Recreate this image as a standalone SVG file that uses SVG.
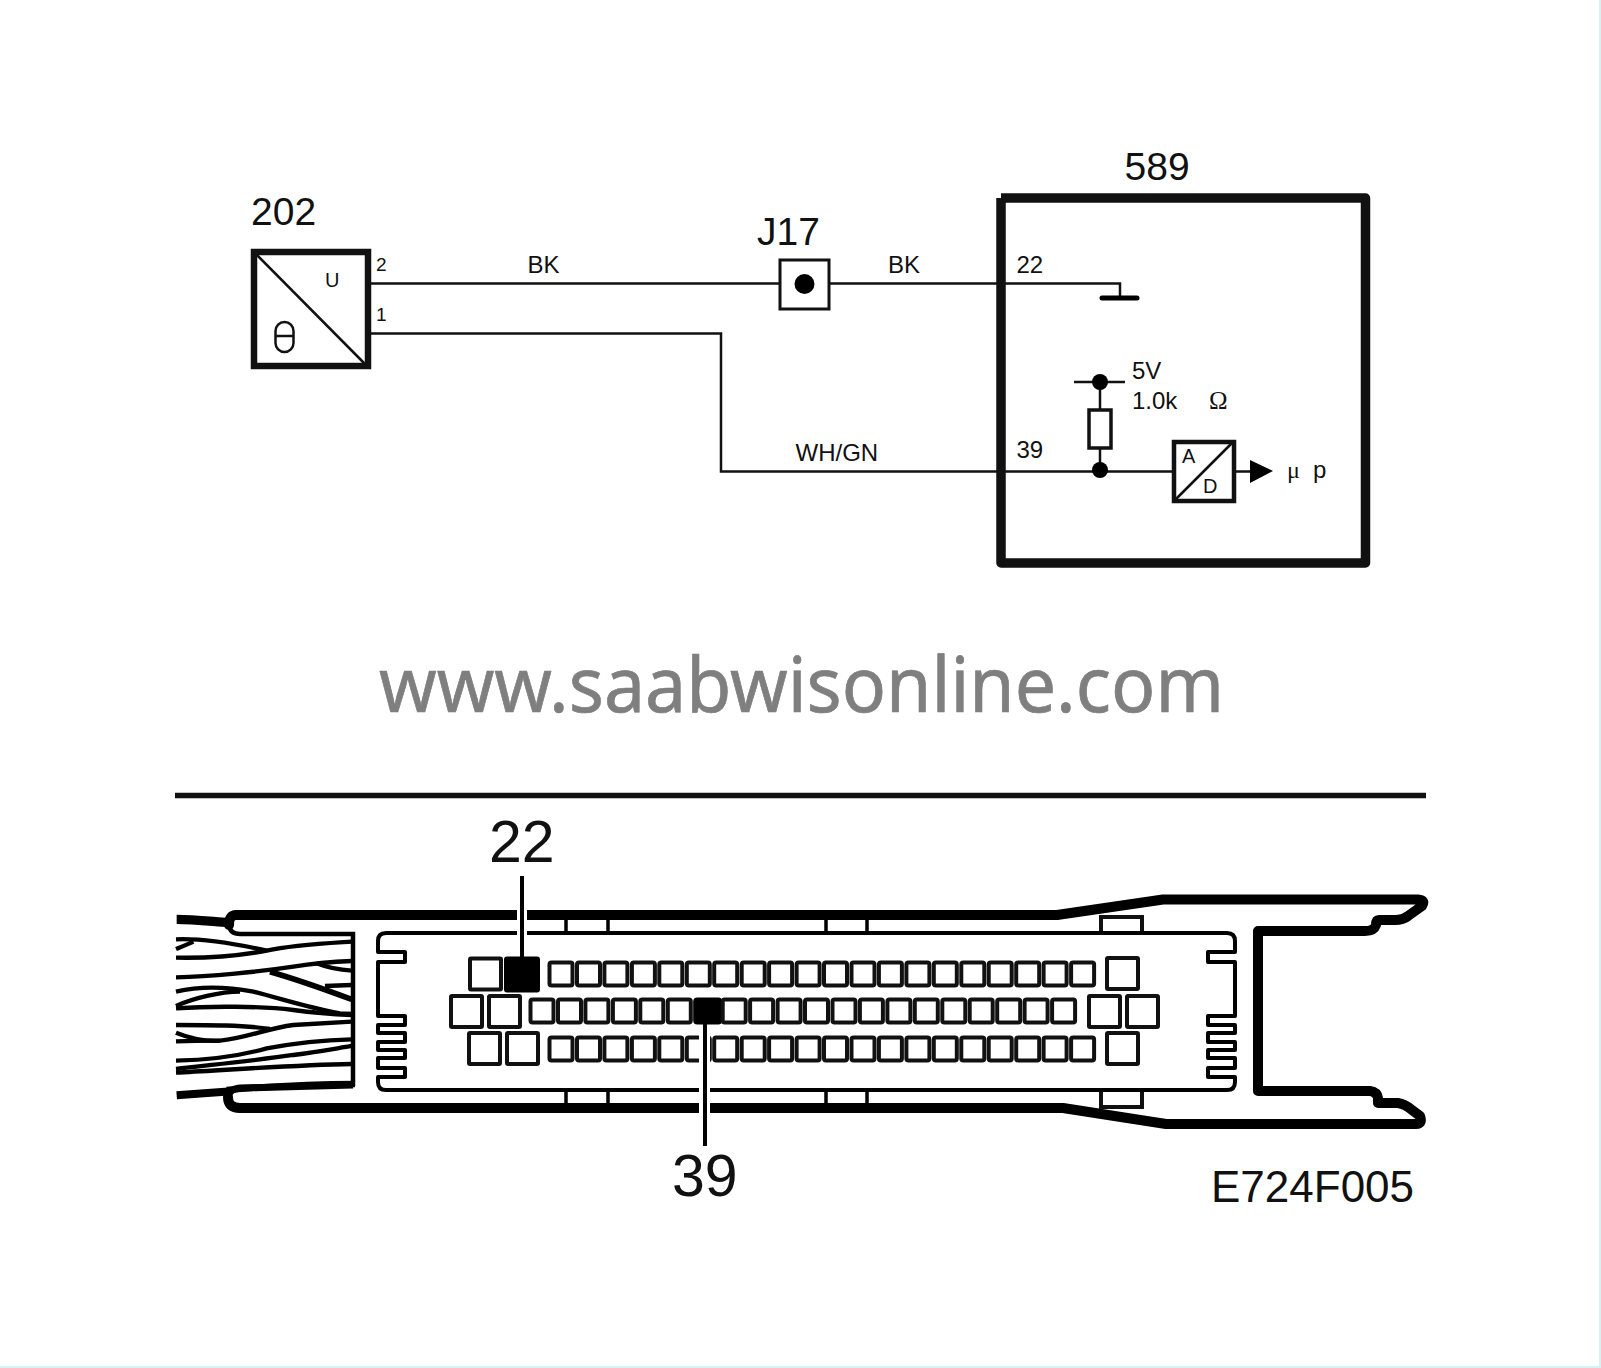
<svg xmlns="http://www.w3.org/2000/svg" width="1601" height="1368" viewBox="0 0 1601 1368">
<style>
text{font-family:"Liberation Sans",Arial,sans-serif;fill:#111}
.w{fill:none;stroke:#111;stroke-width:2.5}
.b{fill:#fff;stroke:#111}
.p{fill:#fff;stroke:#111;stroke-width:4}
.big{fill:#fff;stroke:#111;stroke-width:4}
.k{fill:#000;stroke:#000;stroke-width:4}
.o{fill:none;stroke:#000;stroke-linejoin:round;stroke-linecap:round}
.t38{font-size:39px}
.t23{font-size:24px}
.t19{font-size:19px}
.t60{font-size:59px}
.wire{fill:none;stroke:#000;stroke-width:13;stroke-linecap:butt}
</style>
<defs>
<rect id="pin" class="p" width="23" height="23" rx="2"/>
<rect id="bigpin" class="big" width="31" height="31" rx="1"/>
</defs>
<rect width="1601" height="1368" fill="#fff"/>
<path d="M1600,0V1367H0" fill="none" stroke="#d6f2f2" stroke-width="2"/>

<g id="connectors">
<path class="w" d="M371,283.500H779M829,283.500H1120V298"/>
<path class="w" d="M371,333.500H721V471.500H1172"/>
<path class="w" d="M1236,471.500H1252"/>
</g>

<g id="node-202">
<rect class="b" x="254" y="252" width="114" height="114" stroke-width="6.500"/>
<path class="w" d="M256,254L365,364"/>
<rect x="275.500" y="322" width="18" height="30" rx="9" fill="none" stroke="#111" stroke-width="2.500"/>
<path d="M275,336H294" stroke="#111" stroke-width="2.500"/>
<text class="t38" x="251" y="225">202</text>
<text class="t19" x="376" y="271">2</text>
<text class="t19" x="376" y="321">1</text>
<text x="325" y="287" style="font-size:20px">U</text>
</g>

<g id="node-J17">
<rect class="b" x="780" y="260" width="49" height="49" stroke-width="3"/>
<circle cx="804.500" cy="284" r="10" fill="#000"/>
<text class="t38" x="757" y="245">J17</text>
</g>
<text class="t23" x="527.500" y="273">BK</text>
<text class="t23" x="888" y="273">BK</text>
<text x="795.500" y="461" style="font-size:24px">WH/GN</text>

<g id="node-589">
<path d="M1001,198H1365.500V563H1001V198" fill="none" stroke="#111" stroke-width="9.500" stroke-linejoin="round"/>
<text class="t38" x="1124.500" y="180">589</text>
<text class="t23" x="1016.500" y="273">22</text>
<text class="t23" x="1016.500" y="458">39</text>
<path d="M1102,298H1137" stroke="#000" stroke-width="5" stroke-linecap="round"/>
<path class="w" d="M1074,382H1125M1100,382V470"/>
<circle cx="1100" cy="382" r="8" fill="#000"/>
<circle cx="1100" cy="470" r="8" fill="#000"/>
<rect class="b" x="1089" y="410" width="22" height="38" stroke-width="3.500"/>
<text class="t23" x="1132" y="379">5V</text>
<text class="t23" x="1132" y="409">1.0k</text>
<text x="1209" y="409" style="font-size:25px;font-family:'Liberation Serif',serif">Ω</text>
<rect class="b" x="1174" y="442" width="60" height="59" stroke-width="4.500"/>
<path class="w" d="M1176,499L1232,443"/>
<text x="1182" y="463" style="font-size:20px">A</text>
<text x="1203" y="493" style="font-size:20px">D</text>
<path d="M1250,460L1273,471L1250,483Z" fill="#000"/>
<text x="1287" y="478" style="font-size:24px;font-family:'Liberation Serif',serif">μ</text>
<text x="1313" y="478" style="font-size:24px">p</text>
</g>

<text id="watermark" x="379" y="712" textLength="845" lengthAdjust="spacingAndGlyphs" style="font-size:77px;font-family:'Noto Sans',sans-serif;fill:#7f7f7f;stroke:#7f7f7f;stroke-width:.7">www.saabwisonline.com</text>

<path d="M175,795.500H1426" stroke="#111" stroke-width="5.500"/>

<g id="connector-drawing">
<path class="o" stroke-width="10" d="M1057,915H236Q229,915 229,925"/>
<path class="o" stroke-width="10" d="M1057,915L1163,899.500H1418Q1426,900 1422,906L1408,916Q1403,920 1395,920H1379Q1376,920 1376,925Q1374,931 1365,931H1258V1091H1370Q1377,1092 1378,1098V1103H1398Q1405,1104 1412,1110L1420,1116Q1423,1124 1416,1124H1166L1063,1108H240Q228,1108 228,1097"/>
<path d="M229,925Q230,934 240,934H353V1086" fill="none" stroke="#000" stroke-width="4.500"/>
<path d="M228,1097Q229,1089 240,1088L353,1085" fill="none" stroke="#000" stroke-width="7"/>
<g id="wires" transform="translate(160 880) scale(.3333)">
<path class="wire" d="M48,178C120,175 220,190 320,212"/>
<path class="wire" d="M48,207C70,198 90,190 100,185"/>
<path class="wire" d="M48,233C150,235 250,225 320,212C400,195 500,190 575,185"/>
<path class="wire" d="M48,292C150,290 300,275 400,260C460,250 520,245 575,243"/>
<path class="wire" style="stroke-width:17" d="M330,275C400,295 500,330 575,358"/>
<path class="wire" d="M470,250C500,262 540,270 575,272"/>
<path class="wire" d="M495,318L575,315"/>
<path class="wire" d="M48,335C120,318 200,320 280,335C360,355 450,385 540,400L575,402"/>
<path class="wire" d="M48,378C100,355 180,335 240,335"/>
<path class="wire" d="M48,385C150,378 300,378 400,390C450,397 500,402 575,405"/>
<path class="wire" d="M48,435C150,435 250,435 330,447"/>
<path class="wire" d="M48,458C90,475 130,485 180,482C260,475 320,445 400,435L575,425"/>
<path class="wire" d="M48,484C100,482 130,482 180,482"/>
<path class="wire" d="M48,542C150,540 250,525 320,505C400,490 500,480 575,478"/>
<path class="wire" d="M48,567C150,555 300,540 400,525C480,515 530,505 575,498"/>
<path class="wire" d="M48,578C200,570 400,555 575,552"/>
<path class="wire" style="stroke-width:20" d="M200,630C320,620 450,612 585,612"/>
<path class="wire" style="stroke-width:24" d="M50,646L215,634"/>
<path class="wire" style="stroke-width:28" d="M50,118C100,118 160,125 205,128"/>
</g>
<path fill="none" stroke="#000" stroke-width="3.500" d="M566,920V933M608,920V933M826,920V933M867,920V933M566,1090V1104M608,1090V1104M826,1090V1104M867,1090V1104"/>
<path class="big" d="M1101,933V917H1142V933M1101,1090V1107H1142V1090"/>
<path id="shell" fill="#fff" stroke="#000" stroke-width="4" stroke-linejoin="round" d="M386,933H1227Q1235,933 1235,941V952H1208V962H1235V1016H1208V1025H1235V1033H1208V1042H1235V1050H1208V1058H1235V1068H1208V1077H1235V1082Q1235,1090 1227,1090H386Q378,1090 378,1082V1077H405V1068H378V1058H405V1050H378V1042H405V1033H378V1025H405V1016H378V962H405V952H378V941Q378,933 386,933Z"/>

<g id="pins-row1">
<use href="#pin" x="549.500" y="962.500"/><use href="#pin" x="577" y="962.500"/><use href="#pin" x="604.400" y="962.500"/><use href="#pin" x="631.900" y="962.500"/><use href="#pin" x="659.300" y="962.500"/><use href="#pin" x="686.800" y="962.500"/><use href="#pin" x="714.200" y="962.500"/><use href="#pin" x="741.700" y="962.500"/><use href="#pin" x="769.100" y="962.500"/><use href="#pin" x="796.600" y="962.500"/><use href="#pin" x="824" y="962.500"/><use href="#pin" x="851.500" y="962.500"/><use href="#pin" x="878.900" y="962.500"/><use href="#pin" x="906.400" y="962.500"/><use href="#pin" x="933.800" y="962.500"/><use href="#pin" x="961.300" y="962.500"/><use href="#pin" x="988.700" y="962.500"/><use href="#pin" x="1016.200" y="962.500"/><use href="#pin" x="1043.600" y="962.500"/><use href="#pin" x="1071.100" y="962.500"/>
</g>
<g id="pins-row2">
<use href="#pin" x="530.500" y="999.500"/><use href="#pin" x="558" y="999.500"/><use href="#pin" x="585.400" y="999.500"/><use href="#pin" x="612.900" y="999.500"/><use href="#pin" x="640.300" y="999.500"/><use href="#pin" x="667.800" y="999.500"/><rect class="k" x="695.200" y="999.500" width="25" height="23" rx="2"/><use href="#pin" x="722.700" y="999.500"/><use href="#pin" x="750.100" y="999.500"/><use href="#pin" x="777.600" y="999.500"/><use href="#pin" x="805" y="999.500"/><use href="#pin" x="832.500" y="999.500"/><use href="#pin" x="859.900" y="999.500"/><use href="#pin" x="887.400" y="999.500"/><use href="#pin" x="914.800" y="999.500"/><use href="#pin" x="942.300" y="999.500"/><use href="#pin" x="969.700" y="999.500"/><use href="#pin" x="997.200" y="999.500"/><use href="#pin" x="1024.600" y="999.500"/><use href="#pin" x="1052.100" y="999.500"/>
</g>
<g id="pins-row3">
<use href="#pin" x="549.500" y="1037.500"/><use href="#pin" x="577" y="1037.500"/><use href="#pin" x="604.400" y="1037.500"/><use href="#pin" x="631.900" y="1037.500"/><use href="#pin" x="659.300" y="1037.500"/><use href="#pin" x="686.800" y="1037.500"/><use href="#pin" x="714.200" y="1037.500"/><use href="#pin" x="741.700" y="1037.500"/><use href="#pin" x="769.100" y="1037.500"/><use href="#pin" x="796.600" y="1037.500"/><use href="#pin" x="824" y="1037.500"/><use href="#pin" x="851.500" y="1037.500"/><use href="#pin" x="878.900" y="1037.500"/><use href="#pin" x="906.400" y="1037.500"/><use href="#pin" x="933.800" y="1037.500"/><use href="#pin" x="961.300" y="1037.500"/><use href="#pin" x="988.700" y="1037.500"/><use href="#pin" x="1016.200" y="1037.500"/><use href="#pin" x="1043.600" y="1037.500"/><use href="#pin" x="1071.100" y="1037.500"/>
</g>
<g id="pins-big">
<use href="#bigpin" x="470" y="958.500"/><rect class="k" x="506" y="958.500" width="32" height="32" rx="1"/>
<use href="#bigpin" x="451" y="996"/><use href="#bigpin" x="489" y="996"/>
<use href="#bigpin" x="469" y="1033"/><use href="#bigpin" x="507" y="1033"/>
<use href="#bigpin" x="1107" y="958"/>
<use href="#bigpin" x="1089" y="996"/><use href="#bigpin" x="1127" y="996"/>
<use href="#bigpin" x="1107" y="1033"/>
</g>
<rect x="517" y="905" width="10" height="34" fill="#fff"/>
<rect x="699" y="1030" width="11" height="90" fill="#fff"/>
<path d="M522,876V958M705,1022V1146" stroke="#000" stroke-width="4"/>
</g>

<text class="t60" x="489" y="862">22</text>
<text class="t60" x="672" y="1196">39</text>
<text x="1211" y="1202" style="font-size:44px">E724F005</text>
</svg>
